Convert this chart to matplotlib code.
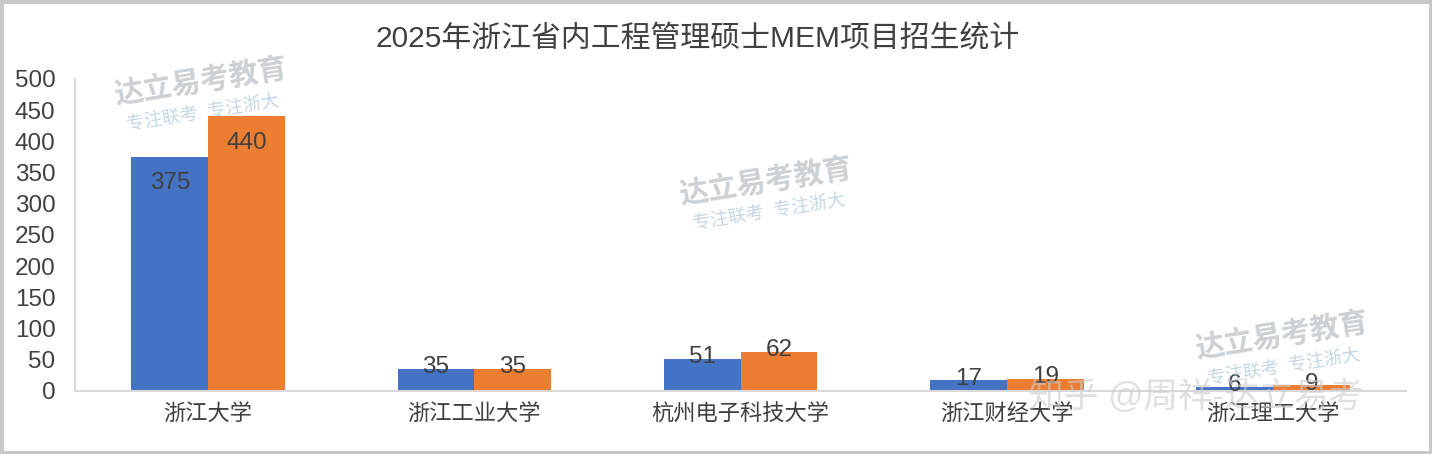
import numpy as np
import matplotlib.pyplot as plt
from matplotlib.patches import Rectangle

plt.rcParams['font.family'] = ['Liberation Sans', 'Noto Sans CJK SC', 'DejaVu Sans']

schools = ['浙江大学', '浙江工业大学', '杭州电子科技大学', '浙江财经大学', '浙江理工大学']
series_a = [375, 35, 51, 17, 6]
series_b = [440, 35, 62, 19, 9]
title = '2025年浙江省内工程管理硕士MEM项目招生统计'

blue = '#4472C4'
orange = '#ED7D31'
txt = '#404040'

fig = plt.figure(figsize=(14.32, 4.54), dpi=100)
ax = fig.add_axes([0.0524, 0.1388, 0.9296, 0.6872])

x = np.arange(len(schools))
w = 0.288
bars_a = ax.bar(x - w / 2, series_a, w, color=blue, zorder=2)
bars_b = ax.bar(x + w / 2, series_b, w, color=orange, zorder=2)

# data labels: inside top for tall bars, sitting on top for short ones
for bars, vals in ((bars_a, series_a), (bars_b, series_b)):
    for b, v in zip(bars, vals):
        cx = b.get_x() + b.get_width() / 2
        if v > 100:
            ax.annotate(str(v), (cx, v), xytext=(0, -11), textcoords='offset points',
                        ha='center', va='top', fontsize=17.5, color=txt, zorder=4)
        else:
            ax.annotate(str(v), (cx, v), xytext=(0, -3), textcoords='offset points',
                        ha='center', va='baseline', fontsize=17.5, color=txt, zorder=4)

ax.set_xlim(-0.5, len(schools) - 0.5)
ax.set_ylim(0, 500)
ax.set_yticks(np.arange(0, 501, 50))
ax.set_xticks(x)
ax.set_xticklabels(schools, fontsize=16, color=txt)
ax.tick_params(axis='y', labelsize=17.5, labelcolor=txt, length=0, pad=14)
ax.tick_params(axis='x', length=0, pad=10)
for s in ('top', 'right'):
    ax.spines[s].set_visible(False)
for s in ('left', 'bottom'):
    ax.spines[s].set_color('#d9d9d9')
    ax.spines[s].set_linewidth(1.5)

fig.text(0.487, 0.915, title, ha='center', va='center', fontsize=21.5, color=txt)

# faint watermarks
for (wx, wy) in ((0.14, 0.82), (0.535, 0.60), (0.895, 0.26)):
    fig.text(wx, wy, '达立易考教育', ha='center', va='center', fontsize=21,
             fontweight='bold', color='#9aa3ab', alpha=0.5, rotation=9, zorder=5)
    fig.text(wx + 0.002, wy - 0.07, '专注联考  专注浙大', ha='center', va='center',
             fontsize=13, color='#8fb6cc', alpha=0.55, rotation=9, zorder=5)
fig.text(0.835, 0.125, '知乎 @周祥-达立易考', ha='center', va='center', fontsize=25,
         color='#cccccc', alpha=0.6, zorder=5)

fig.patches.append(Rectangle((0, 0), 1, 1, transform=fig.transFigure, fill=False,
                             edgecolor='#c8c8c8', linewidth=5))

fig.savefig('out.png', dpi=100)
